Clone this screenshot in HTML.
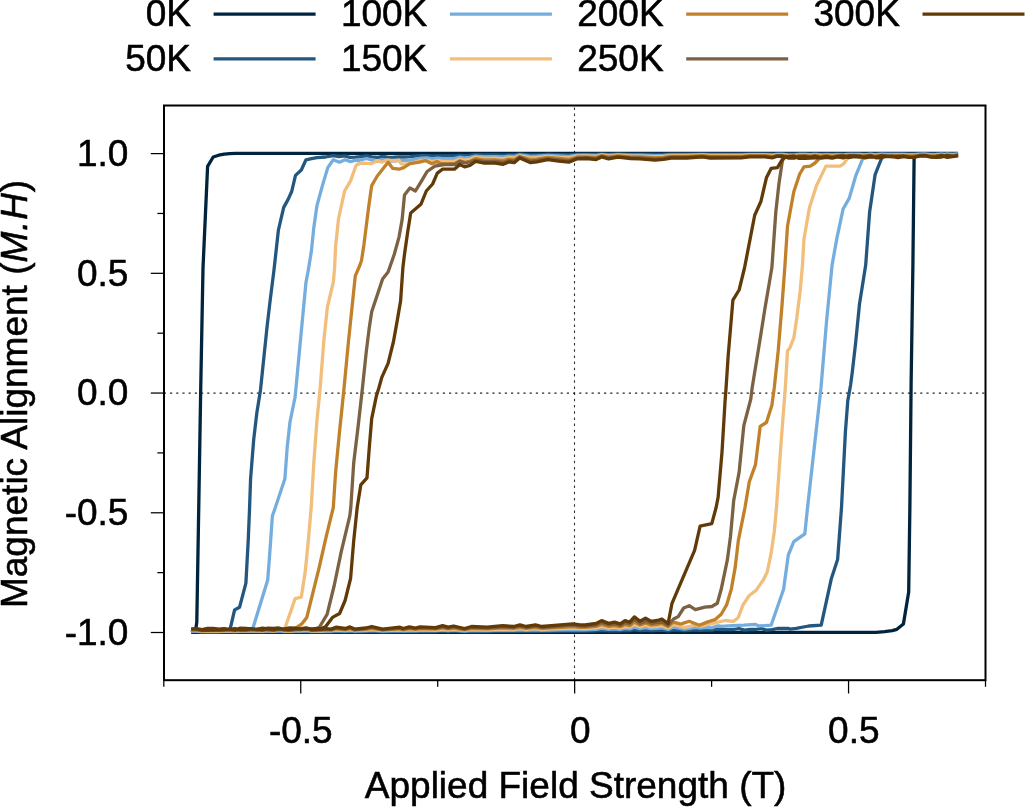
<!DOCTYPE html>
<html lang="en"><head><meta charset="utf-8"><title>Hysteresis loops</title>
<style>
html,body{margin:0;padding:0;background:#fff;}
body{width:1025px;height:807px;overflow:hidden;}
svg{display:block;}
text{font-family:"Liberation Sans",Arial,Helvetica,sans-serif;font-size:37px;fill:#000;stroke:#000;stroke-width:0.55px;}
.c{fill:none;stroke-width:3.3;stroke-linejoin:round;stroke-linecap:butt;}
.ax{stroke:#000;fill:none;}
</style></head><body>
<svg width="1025" height="807" viewBox="0 0 1025 807">
<rect width="1025" height="807" fill="#fff"/>
<g stroke="#000" stroke-width="1.3" fill="none">
<line stroke-dasharray="2.2 4" stroke-opacity="0.85" x1="163.8" y1="393.10" x2="985.5" y2="393.10"/>
<line stroke-dasharray="2.5 3.7" stroke-width="1.1" stroke-opacity="0.8" x1="574.5" y1="680.3" x2="574.5" y2="105.5"/>
</g>
<g class="c">
<path stroke="#01243e" d="M958.1 153.4 L236.0 153.4 L229.7 153.7 L224.2 154.2 L218.7 155.2 L213.2 157.0 L207.6 166.4 L203.0 268.0 L200.7 389.9 L198.7 509.9 L196.8 622.0 L195.6 630.5 L191.1 632.3 M191.2 632.3 L876.0 632.3 L884.6 631.7 L892.2 630.7 L896.9 629.3 L903.4 624.0 L908.7 592.0 L909.9 505.0 L911.1 385.0 L912.9 265.0 L914.1 159.0 L914.6 155.0 L917.0 153.4 L958.1 153.4"/>
<path stroke="#24577f" d="M958.1 153.8 L952.6 153.9 L947.2 154.0 L941.7 153.8 L936.2 154.0 L930.7 154.0 L925.2 153.8 L919.8 153.9 L914.3 154.0 L908.8 154.1 L903.3 153.9 L897.9 154.1 L892.4 153.9 L886.9 153.9 L881.4 153.8 L875.9 154.1 L870.5 154.0 L865.0 154.1 L859.5 153.9 L854.0 153.9 L848.5 153.9 L843.1 154.1 L837.6 154.0 L832.1 154.2 L826.6 154.0 L821.2 154.2 L815.7 153.9 L810.2 154.1 L804.7 153.9 L799.2 154.0 L793.8 154.2 L788.3 154.2 L782.8 153.9 L777.4 153.9 L772.7 154.1 L764.9 154.0 L749.3 154.0 L741.5 154.1 L710.2 154.2 L702.4 154.0 L686.8 154.2 L671.2 154.2 L663.4 154.4 L655.0 154.5 L640.0 154.3 L630.5 154.3 L618.0 154.0 L608.6 154.3 L601.6 154.0 L596.1 154.4 L586.8 154.3 L577.4 154.3 L568.8 154.9 L558.7 154.7 L547.8 154.4 L536.8 154.8 L530.6 155.0 L519.7 154.2 L514.2 155.0 L508.7 154.8 L503.3 155.2 L495.0 155.0 L490.0 155.0 L483.3 155.0 L475.5 154.7 L470.0 155.4 L464.6 155.7 L459.9 155.3 L454.4 156.0 L442.7 156.0 L437.7 155.8 L432.2 156.2 L426.7 155.6 L421.3 155.7 L415.8 156.2 L410.3 156.7 L404.8 157.0 L399.4 156.9 L393.9 157.2 L388.4 157.3 L382.9 156.5 L377.4 157.3 L372.0 156.8 L366.5 156.0 L361.0 156.6 L355.5 157.1 L350.1 157.3 L347.0 156.6 L345.0 155.9 L339.0 156.5 L333.0 155.6 L325.5 157.0 L317.0 157.6 L311.5 158.6 L306.0 159.8 L301.3 170.0 L295.5 175.4 L291.6 191.8 L288.0 199.6 L283.7 207.4 L278.4 230.1 L274.0 269.9 L270.1 300.9 L267.0 327.4 L260.5 389.9 L256.8 413.1 L253.7 439.6 L250.6 478.7 L249.5 509.9 L248.2 540.9 L245.9 583.1 L239.6 607.2 L234.6 609.9 L230.3 628.3 L225.0 631.0 L223.0 631.7 L218.6 631.8 L213.1 631.6 L207.6 631.6 L202.1 631.9 L196.7 631.7 L191.2 631.7 M191.2 631.7 L196.7 631.7 L202.1 631.9 L207.6 631.9 L213.1 631.9 L218.6 631.9 L224.1 631.9 L229.5 631.7 L235.0 631.9 L240.5 631.6 L246.0 631.7 L251.4 631.7 L256.9 631.8 L262.4 631.9 L267.9 631.6 L273.4 631.7 L278.8 631.6 L284.3 631.8 L289.8 631.9 L295.3 631.7 L300.8 631.7 L306.2 631.5 L311.7 631.9 L317.2 631.8 L322.7 631.8 L325.7 631.7 L331.2 631.8 L335.9 631.5 L345.3 631.7 L350.0 631.4 L354.6 631.8 L365.6 631.6 L371.8 631.3 L382.7 631.8 L399.9 631.5 L403.0 631.7 L409.3 631.4 L415.5 631.6 L420.0 631.4 L435.6 631.5 L442.6 631.2 L448.1 631.5 L453.6 631.2 L464.5 631.7 L471.5 631.3 L487.1 631.5 L502.7 631.2 L513.7 631.3 L519.9 631.1 L526.2 631.3 L535.5 631.1 L541.8 631.3 L560.5 631.1 L573.0 630.9 L580.0 631.1 L585.0 631.1 L596.0 630.8 L601.6 630.4 L608.6 630.8 L614.5 630.6 L620.3 630.9 L625.0 630.4 L629.7 630.6 L634.4 629.7 L640.0 630.5 L645.5 630.0 L650.9 630.5 L657.2 630.3 L661.9 630.1 L668.1 630.9 L673.3 629.8 L678.7 630.2 L684.2 630.6 L689.7 630.3 L695.2 629.8 L700.6 630.3 L706.1 629.8 L711.6 630.1 L717.1 629.1 L722.6 629.5 L728.0 629.6 L733.5 629.5 L739.0 628.5 L744.5 630.2 L749.9 629.5 L755.4 629.5 L760.9 628.5 L766.4 630.1 L771.9 629.7 L777.3 628.5 L782.8 628.5 L788.0 628.3 L790.0 629.1 L796.2 628.3 L808.7 626.0 L821.2 625.2 L831.4 578.4 L837.6 559.6 L841.5 507.5 L845.4 431.8 L847.8 400.6 L850.6 385.0 L852.4 371.1 L855.6 343.1 L859.5 304.0 L865.7 265.0 L869.6 212.1 L875.1 174.7 L881.3 159.0 L884.5 154.5 L886.5 153.9 L892.4 154.0 L897.9 154.0 L903.3 153.9 L908.8 154.0 L914.3 154.0 L919.8 153.8 L925.2 153.8 L930.7 154.0 L936.2 154.1 L941.7 154.0 L947.2 153.8 L952.6 153.9 L958.1 153.8"/>
<path stroke="#75addf" d="M958.1 154.2 L952.6 154.4 L947.2 154.7 L941.7 154.1 L936.2 154.5 L930.7 154.6 L925.2 154.2 L919.8 154.3 L914.3 154.7 L908.8 154.7 L903.3 154.5 L897.9 154.8 L892.4 154.5 L886.9 154.4 L881.4 154.2 L875.9 154.7 L870.5 154.6 L865.0 154.9 L859.5 154.4 L854.0 154.3 L848.5 154.3 L843.1 154.9 L837.6 154.6 L832.1 155.0 L826.6 154.7 L821.2 154.9 L815.7 154.4 L810.2 154.7 L804.7 154.5 L799.2 154.5 L793.8 155.0 L788.3 154.9 L782.8 154.4 L777.4 154.3 L772.7 154.9 L764.9 154.6 L749.3 154.6 L741.5 154.9 L710.2 154.9 L702.4 154.6 L686.8 154.9 L671.2 154.9 L663.4 155.4 L655.0 155.6 L640.0 155.2 L630.5 155.1 L618.0 154.7 L608.6 155.2 L601.6 154.6 L596.1 155.5 L586.8 155.1 L577.4 155.2 L568.8 156.3 L558.7 156.0 L547.8 155.5 L536.8 156.2 L530.6 156.5 L519.7 154.9 L514.2 156.5 L508.7 156.2 L503.3 157.0 L495.0 156.6 L490.0 156.7 L483.3 156.6 L475.5 156.1 L470.0 157.4 L464.6 157.9 L459.9 157.1 L454.4 158.7 L442.7 158.7 L437.7 158.1 L432.2 158.9 L426.7 157.9 L421.3 158.1 L415.8 159.1 L410.3 160.0 L404.8 160.6 L399.4 160.3 L393.9 161.0 L388.4 161.2 L382.9 159.6 L377.4 161.3 L372.0 160.2 L366.5 158.5 L361.0 159.8 L358.0 160.8 L356.0 160.2 L350.5 161.6 L345.0 159.8 L339.5 162.2 L333.3 159.8 L327.8 167.6 L322.4 185.6 L316.9 205.9 L313.8 227.7 L311.4 251.1 L308.3 269.9 L306.0 282.2 L302.1 322.8 L295.8 389.9 L295.0 397.5 L289.9 422.5 L287.2 447.4 L284.9 478.7 L274.5 509.9 L272.4 515.9 L269.3 559.6 L267.7 579.9 L252.9 628.3 L247.5 630.3 L245.5 631.4 L240.5 631.4 L235.0 631.1 L229.5 631.3 L224.1 631.1 L218.6 631.2 L213.1 631.0 L207.6 631.0 L202.1 631.4 L196.7 631.1 L191.2 631.2 M191.2 631.2 L196.7 631.2 L202.1 631.5 L207.6 631.5 L213.1 631.5 L218.6 631.5 L224.1 631.4 L229.5 631.2 L235.0 631.5 L240.5 630.9 L246.0 631.0 L251.4 631.2 L256.9 631.2 L262.4 631.4 L267.9 630.9 L273.4 631.0 L278.8 630.9 L284.3 631.3 L289.8 631.4 L295.3 631.1 L300.8 631.1 L306.2 630.8 L311.7 631.4 L317.2 631.3 L322.7 631.3 L325.7 631.1 L331.2 631.2 L335.9 630.6 L345.3 631.0 L350.0 630.5 L354.6 631.2 L365.6 630.9 L371.8 630.4 L382.7 631.2 L399.9 630.6 L403.0 631.0 L409.3 630.5 L415.5 630.9 L420.0 630.5 L435.6 630.7 L442.6 630.1 L448.1 630.6 L453.6 630.2 L464.5 631.0 L471.5 630.4 L487.1 630.6 L502.7 630.1 L513.7 630.4 L519.9 629.8 L526.2 630.4 L535.5 629.8 L541.8 630.4 L560.5 629.8 L573.0 629.5 L580.0 629.8 L585.0 629.9 L596.0 629.4 L601.6 628.4 L608.6 629.3 L614.5 628.9 L620.3 629.5 L625.0 628.4 L629.7 628.9 L634.4 627.2 L640.0 628.6 L645.5 627.6 L650.9 628.6 L657.2 628.4 L661.9 627.9 L668.1 629.4 L673.3 627.2 L678.7 628.1 L684.2 629.0 L689.7 628.3 L695.2 627.3 L700.6 628.2 L706.1 627.3 L711.6 627.9 L717.1 626.0 L719.2 625.9 L721.2 626.3 L732.0 625.6 L744.0 625.2 L755.5 624.4 L758.6 626.0 L771.1 625.2 L783.6 589.3 L788.3 555.0 L793.8 541.7 L804.8 533.9 L807.5 508.0 L821.0 387.5 L826.7 319.6 L832.1 265.0 L836.8 238.7 L843.1 209.0 L849.3 198.1 L855.6 176.2 L862.6 159.0 L865.5 155.0 L867.5 154.6 L870.5 154.2 L875.9 154.9 L881.4 154.8 L886.9 154.4 L892.4 154.5 L897.9 154.5 L903.3 154.4 L908.8 154.7 L914.3 154.7 L919.8 154.2 L925.2 154.2 L930.7 154.7 L936.2 154.7 L941.7 154.6 L947.2 154.2 L952.6 154.5 L958.1 154.1"/>
<path stroke="#f1be7b" d="M958.1 154.6 L952.6 155.0 L947.2 155.3 L941.7 154.5 L936.2 155.1 L930.7 155.3 L925.2 154.6 L919.8 154.8 L914.3 155.3 L908.8 155.4 L903.3 155.0 L897.9 155.5 L892.4 155.0 L886.9 154.9 L881.4 154.7 L875.9 155.4 L870.5 155.2 L865.0 155.6 L859.5 154.9 L854.0 154.8 L848.5 154.8 L843.1 155.6 L837.6 155.1 L832.1 155.8 L826.6 155.3 L821.2 155.7 L815.7 154.9 L810.2 155.4 L804.7 155.0 L799.2 155.1 L793.8 155.8 L788.3 155.7 L782.8 154.9 L777.4 154.8 L772.7 155.6 L764.9 155.2 L749.3 155.2 L741.5 155.6 L710.2 155.7 L702.4 155.2 L686.8 155.7 L671.2 155.7 L663.4 156.4 L655.0 156.8 L640.0 156.1 L630.5 156.0 L618.0 155.3 L608.6 156.1 L601.6 155.2 L596.1 156.5 L586.8 156.0 L577.4 156.1 L568.8 157.8 L558.7 157.3 L547.8 156.5 L536.8 157.7 L530.6 158.1 L519.7 155.7 L514.2 158.1 L508.7 157.7 L503.3 158.9 L495.0 158.2 L490.0 158.3 L483.3 158.2 L475.5 157.4 L470.0 159.4 L464.6 160.2 L459.9 159.0 L454.4 161.3 L442.7 161.3 L437.7 160.5 L432.2 161.7 L426.7 160.1 L421.3 160.4 L415.8 161.9 L410.3 163.3 L404.8 164.2 L401.0 163.8 L399.0 160.2 L393.5 161.0 L388.1 159.8 L381.8 162.2 L377.9 160.6 L370.9 163.7 L360.8 163.0 L356.1 165.3 L350.6 180.9 L344.6 191.0 L338.5 219.0 L335.6 246.5 L334.6 268.0 L333.3 282.2 L327.4 307.1 L323.9 339.9 L320.2 387.5 L316.9 420.9 L313.8 463.0 L311.2 507.5 L308.3 540.9 L305.2 572.1 L301.3 597.1 L295.1 598.7 L284.9 628.3 L279.5 630.0 L277.5 630.4 L273.4 631.0 L267.9 630.6 L262.4 630.3 L256.9 630.8 L251.4 630.5 L246.0 630.9 L240.5 630.9 L235.0 630.5 L229.5 630.9 L224.1 630.5 L218.6 630.7 L213.1 630.3 L207.6 630.3 L202.1 631.0 L196.7 630.5 L191.2 630.6 M191.2 630.6 L196.7 630.6 L202.1 631.2 L207.6 631.1 L213.1 631.1 L218.6 631.1 L224.1 631.0 L229.5 630.6 L235.0 631.2 L240.5 630.2 L246.0 630.4 L251.4 630.6 L256.9 630.7 L262.4 631.0 L267.9 630.2 L273.4 630.4 L278.8 630.1 L284.3 630.8 L289.8 631.0 L295.3 630.6 L300.8 630.5 L306.2 630.0 L311.7 631.0 L317.2 630.8 L322.7 630.8 L325.7 630.5 L331.2 630.7 L335.9 629.8 L345.3 630.4 L350.0 629.6 L354.6 630.7 L365.6 630.1 L371.8 629.4 L382.7 630.7 L399.9 629.8 L403.0 630.4 L409.3 629.6 L415.5 630.1 L420.0 629.6 L435.6 630.0 L442.6 629.0 L448.1 629.8 L453.6 629.1 L464.5 630.4 L471.5 629.4 L487.1 629.8 L502.7 629.0 L513.7 629.4 L519.9 628.6 L526.2 629.4 L535.5 628.6 L541.8 629.4 L560.5 628.6 L573.0 628.0 L580.0 628.6 L585.0 628.6 L596.0 627.9 L601.6 626.5 L608.6 627.8 L614.5 627.2 L620.3 628.1 L625.0 626.5 L629.7 627.2 L634.4 624.6 L640.0 626.8 L645.5 625.2 L650.9 626.8 L657.2 626.4 L661.9 625.6 L668.1 628.0 L673.3 624.7 L678.7 625.9 L684.2 627.3 L689.7 626.3 L695.2 624.8 L700.4 626.2 L702.4 626.0 L714.9 622.9 L725.1 620.5 L733.7 621.3 L738.3 617.4 L743.0 604.9 L749.3 595.5 L756.3 590.1 L763.3 579.9 L767.2 572.1 L771.1 553.4 L774.3 531.5 L776.5 507.0 L781.3 439.6 L785.4 387.0 L787.5 350.9 L790.0 347.7 L793.9 337.5 L797.0 316.5 L800.1 291.5 L802.5 265.0 L804.0 238.7 L809.5 207.4 L816.5 185.6 L825.9 166.1 L840.0 166.1 L843.9 163.7 L847.0 159.0 L850.0 155.6 L852.0 155.0 L854.0 155.0 L859.5 155.3 L865.0 155.1 L870.5 154.6 L875.9 155.6 L881.4 155.5 L886.9 154.9 L892.4 155.1 L897.9 155.1 L903.3 154.9 L908.8 155.3 L914.3 155.3 L919.8 154.6 L925.2 154.5 L930.7 155.3 L936.2 155.4 L941.7 155.2 L947.2 154.5 L952.6 155.0 L958.1 154.5"/>
<path stroke="#c0812a" d="M958.1 155.0 L952.6 155.5 L947.2 156.0 L941.7 154.9 L936.2 155.7 L930.7 155.9 L925.2 155.1 L919.8 155.2 L914.3 155.9 L908.8 156.1 L903.3 155.5 L897.9 156.2 L892.4 155.5 L886.9 155.4 L881.4 155.1 L875.9 156.0 L870.5 155.7 L865.0 156.3 L859.5 155.4 L854.0 155.2 L848.5 155.2 L843.1 156.4 L837.6 155.7 L832.1 156.6 L826.6 156.0 L821.2 156.4 L815.7 155.5 L810.2 156.1 L804.7 155.5 L799.2 155.7 L793.8 156.6 L788.3 156.5 L782.8 155.4 L777.4 155.3 L772.7 156.3 L764.9 155.7 L749.3 155.7 L741.5 156.3 L710.2 156.5 L702.4 155.7 L686.8 156.5 L671.2 156.5 L663.4 157.3 L655.0 157.9 L640.0 157.0 L630.5 156.8 L618.0 155.9 L608.6 157.0 L601.6 155.7 L596.1 157.5 L586.8 156.8 L577.4 157.0 L568.8 159.3 L558.7 158.5 L547.8 157.5 L536.8 159.1 L530.6 159.6 L519.7 156.5 L514.2 159.6 L508.7 159.1 L503.3 160.7 L495.0 159.8 L490.0 159.9 L483.3 159.8 L475.5 158.7 L470.0 161.3 L464.6 162.4 L459.9 160.8 L454.4 163.9 L442.7 163.9 L439.0 162.7 L437.0 161.5 L431.8 163.7 L425.5 160.6 L419.3 162.2 L409.9 163.7 L403.7 167.6 L399.0 169.2 L392.8 168.4 L388.1 162.2 L377.1 176.2 L371.7 185.6 L368.6 207.4 L363.9 244.9 L361.5 260.5 L360.0 265.0 L355.3 275.9 L352.2 305.6 L348.3 343.1 L344.1 387.5 L339.3 434.0 L335.6 472.4 L333.3 507.5 L326.3 536.2 L319.2 567.4 L306.8 617.4 L302.1 623.6 L296.6 627.5 L291.0 629.7 L289.0 629.4 L284.3 630.0 L278.8 629.8 L273.4 630.6 L267.9 630.1 L262.4 629.6 L256.9 630.3 L251.4 629.9 L246.0 630.5 L240.5 630.5 L235.0 629.9 L229.5 630.4 L224.1 629.9 L218.6 630.2 L213.1 629.7 L207.6 629.6 L202.1 630.5 L196.7 629.9 L191.2 630.0 M191.2 630.0 L196.7 630.0 L202.1 630.8 L207.6 630.7 L213.1 630.7 L218.6 630.7 L224.1 630.5 L229.5 630.0 L235.0 630.8 L240.5 629.5 L246.0 629.7 L251.4 630.1 L256.9 630.2 L262.4 630.5 L267.9 629.6 L273.4 629.8 L278.8 629.4 L284.3 630.3 L289.8 630.5 L295.3 630.0 L300.8 629.9 L306.2 629.3 L311.7 630.5 L317.2 630.3 L322.7 630.2 L325.7 629.8 L331.2 630.2 L335.9 628.9 L345.3 629.8 L350.0 628.7 L354.6 630.2 L365.6 629.4 L371.8 628.4 L382.7 630.2 L399.9 628.9 L403.0 629.8 L409.3 628.7 L415.5 629.4 L420.0 628.7 L435.6 629.2 L442.6 627.9 L448.1 628.9 L453.6 628.1 L464.5 629.8 L471.5 628.4 L487.1 628.9 L502.7 627.9 L513.7 628.4 L519.9 627.4 L526.2 628.4 L535.5 627.4 L541.8 628.4 L560.5 627.4 L573.0 626.6 L580.0 627.4 L585.0 627.4 L596.0 626.4 L601.6 624.5 L608.6 626.4 L614.5 625.6 L620.3 626.7 L625.0 624.5 L629.7 625.6 L634.4 622.0 L640.0 625.0 L645.5 622.9 L650.9 625.0 L657.2 624.4 L661.9 623.4 L668.1 626.5 L673.3 622.1 L680.1 623.8 L682.1 623.6 L689.2 621.3 L699.3 625.2 L707.1 622.1 L714.9 619.7 L721.2 614.3 L726.6 604.9 L731.3 589.3 L735.2 567.4 L738.3 540.9 L745.0 507.5 L749.3 481.8 L755.5 464.6 L760.2 426.4 L766.4 422.5 L771.9 405.3 L774.3 387.5 L778.2 350.9 L782.1 304.0 L784.8 267.5 L787.5 226.2 L793.8 191.8 L799.7 174.0 L804.0 166.9 L810.3 166.1 L815.0 163.0 L818.9 159.0 L822.0 156.0 L824.0 155.6 L826.6 155.6 L832.1 156.3 L837.6 155.5 L843.1 155.3 L848.5 156.2 L854.0 155.6 L859.5 155.9 L865.0 155.7 L870.5 155.1 L875.9 156.3 L881.4 156.2 L886.9 155.4 L892.4 155.7 L897.9 155.6 L903.3 155.4 L908.8 155.9 L914.3 156.0 L919.8 155.0 L925.2 154.9 L930.7 155.9 L936.2 156.0 L941.7 155.8 L947.2 154.9 L952.6 155.5 L958.1 154.9"/>
<path stroke="#7c6142" d="M958.1 155.4 L952.6 156.0 L947.2 156.6 L941.7 155.3 L936.2 156.2 L930.7 156.5 L925.2 155.5 L919.8 155.7 L914.3 156.5 L908.8 156.7 L903.3 156.0 L897.9 156.9 L892.4 156.0 L886.9 155.9 L881.4 155.5 L875.9 156.7 L870.5 156.3 L865.0 157.0 L859.5 155.9 L854.0 155.7 L848.5 155.7 L843.1 157.1 L837.6 156.3 L832.1 157.4 L826.6 156.6 L821.2 157.2 L815.7 156.0 L810.2 156.7 L804.7 156.1 L799.2 156.2 L793.8 157.4 L788.3 157.2 L782.8 156.0 L777.4 155.7 L772.7 157.1 L764.9 156.3 L749.3 156.3 L741.5 157.1 L710.2 157.2 L702.4 156.3 L686.8 157.2 L671.2 157.2 L663.4 158.3 L655.0 159.0 L640.0 157.9 L630.5 157.7 L618.0 156.6 L608.6 157.9 L601.6 156.3 L596.1 158.6 L586.8 157.7 L577.4 157.9 L568.8 160.7 L558.7 159.8 L547.8 158.6 L536.8 160.5 L530.6 161.2 L519.7 157.2 L514.2 161.2 L508.7 160.5 L503.3 162.5 L495.0 161.4 L490.0 161.6 L483.3 161.4 L475.5 160.1 L470.0 162.0 L465.0 163.0 L459.9 161.4 L455.2 164.5 L444.3 164.5 L434.9 166.1 L427.1 171.5 L421.6 180.9 L415.4 191.0 L409.9 187.9 L404.5 195.0 L402.1 219.9 L399.0 237.1 L394.3 254.3 L389.7 267.5 L388.1 272.0 L382.6 279.0 L371.7 311.8 L369.3 327.4 L366.2 352.4 L362.5 387.5 L358.4 424.0 L353.7 463.0 L350.8 507.5 L349.8 515.9 L341.2 551.8 L334.2 585.5 L327.1 614.3 L319.2 627.5 L314.0 629.3 L312.0 629.5 L306.2 628.9 L300.8 629.5 L295.3 628.8 L289.8 628.7 L284.3 629.4 L278.8 629.2 L273.4 630.2 L267.9 629.5 L262.4 628.9 L256.9 629.8 L251.4 629.3 L246.0 630.0 L240.5 630.0 L235.0 629.3 L229.5 629.9 L224.1 629.3 L218.6 629.7 L213.1 629.0 L207.6 629.0 L202.1 630.1 L196.7 629.3 L191.2 629.5 M191.2 629.5 L196.7 629.5 L202.1 630.4 L207.6 630.4 L213.1 630.3 L218.6 630.3 L224.1 630.1 L229.5 629.4 L235.0 630.4 L240.5 628.8 L246.0 629.1 L251.4 629.5 L256.9 629.6 L262.4 630.1 L267.9 628.9 L273.4 629.2 L278.8 628.7 L284.3 629.8 L289.8 630.1 L295.3 629.4 L300.8 629.2 L306.2 628.5 L311.7 630.1 L317.2 629.8 L322.7 629.7 L325.7 629.2 L331.2 629.6 L335.9 628.1 L345.3 629.1 L350.0 627.8 L354.6 629.6 L365.6 628.7 L371.8 627.5 L382.7 629.6 L399.9 628.1 L403.0 629.1 L409.3 627.8 L415.5 628.7 L420.0 627.8 L435.6 628.4 L442.6 626.8 L448.1 628.1 L453.6 627.0 L464.5 629.1 L471.5 627.5 L487.1 628.1 L502.7 626.8 L513.7 627.5 L519.9 626.1 L526.2 627.5 L535.5 626.1 L541.8 627.5 L560.5 626.1 L573.0 625.2 L580.0 626.1 L585.0 626.2 L596.0 625.0 L601.6 622.5 L608.6 624.9 L614.5 623.9 L620.3 625.3 L625.0 622.5 L629.7 623.9 L634.4 619.5 L640.0 623.5 L646.0 621.5 L652.0 623.5 L657.5 622.5 L662.5 622.0 L668.1 625.2 L673.6 619.0 L678.2 616.6 L683.7 608.0 L689.2 605.7 L695.4 609.6 L704.8 607.2 L711.8 606.5 L717.3 603.3 L721.2 589.3 L727.4 559.6 L730.5 536.2 L733.1 507.5 L733.7 500.5 L739.1 472.4 L743.8 425.6 L750.8 399.0 L752.2 387.5 L760.2 338.4 L764.9 308.7 L771.9 267.5 L775.8 212.1 L778.9 184.0 L782.4 160.6 L785.0 156.5 L787.0 156.3 L793.8 155.8 L799.2 157.6 L804.7 157.6 L810.2 157.2 L815.7 157.2 L821.2 157.0 L826.6 156.2 L832.1 157.1 L837.6 156.0 L843.1 155.7 L848.5 156.9 L854.0 156.1 L859.5 156.5 L865.0 156.3 L870.5 155.5 L875.9 157.0 L881.4 156.8 L886.9 155.9 L892.4 156.2 L897.9 156.2 L903.3 155.9 L908.8 156.6 L914.3 156.6 L919.8 155.4 L925.2 155.3 L930.7 156.5 L936.2 156.7 L941.7 156.4 L947.2 155.3 L952.6 156.0 L958.1 155.2"/>
<path stroke="#623a08" d="M958.1 155.8 L952.6 156.5 L947.2 157.3 L941.7 155.6 L936.2 156.8 L930.7 157.1 L925.2 155.9 L919.8 156.1 L914.3 157.2 L908.8 157.4 L903.3 156.6 L897.9 157.6 L892.4 156.6 L886.9 156.4 L881.4 155.9 L875.9 157.3 L870.5 156.9 L865.0 157.8 L859.5 156.4 L854.0 156.2 L848.5 156.2 L843.1 157.9 L837.6 156.9 L832.1 158.2 L826.6 157.3 L821.2 158.0 L815.7 156.5 L810.2 157.4 L804.7 156.6 L799.2 156.8 L793.8 158.2 L788.3 158.0 L782.8 156.5 L777.4 156.2 L772.7 157.8 L764.9 156.9 L749.3 156.9 L741.5 157.8 L710.2 158.0 L702.4 156.9 L686.8 158.0 L671.2 158.0 L663.4 159.3 L655.0 160.1 L640.0 158.8 L630.5 158.5 L618.0 157.2 L608.6 158.8 L601.6 156.9 L596.1 159.6 L586.8 158.5 L577.4 158.8 L568.8 162.2 L558.7 161.1 L547.8 159.6 L536.8 161.9 L530.6 162.7 L519.7 158.0 L514.2 162.7 L508.7 161.9 L503.3 164.3 L495.0 163.0 L490.0 163.2 L483.3 163.0 L475.5 161.4 L470.0 165.3 L464.6 166.9 L459.9 164.5 L454.4 169.2 L442.7 169.2 L437.3 173.1 L432.6 184.0 L426.3 191.0 L420.9 204.3 L410.7 212.9 L407.6 232.4 L404.5 254.3 L402.9 267.5 L400.6 300.9 L397.4 319.6 L393.5 341.5 L388.1 363.3 L381.8 377.4 L379.0 387.5 L376.4 395.9 L371.7 418.6 L369.3 447.4 L367.0 477.9 L360.8 484.9 L357.2 507.5 L353.7 540.9 L350.6 578.4 L345.1 600.5 L339.6 613.5 L332.5 617.4 L325.5 626.8 L320.0 629.0 L318.0 628.3 L311.7 628.9 L306.2 628.3 L300.8 628.9 L295.3 628.1 L289.8 628.0 L284.3 628.8 L278.8 628.6 L273.4 629.7 L267.9 628.9 L262.4 628.2 L256.9 629.4 L251.4 628.7 L246.0 629.5 L240.5 629.6 L235.0 628.7 L229.5 629.4 L224.1 628.7 L218.6 629.1 L213.1 628.4 L207.6 628.3 L202.1 629.7 L196.7 628.7 L191.2 628.9 M191.2 628.9 L196.7 628.9 L202.1 630.0 L207.6 630.0 L213.1 629.9 L218.6 629.9 L224.1 629.6 L229.5 628.9 L235.0 630.0 L240.5 628.1 L246.0 628.5 L251.4 629.0 L256.9 629.1 L262.4 629.6 L267.9 628.2 L273.4 628.5 L278.8 628.0 L284.3 629.3 L289.8 629.7 L295.3 628.8 L300.8 628.6 L306.2 627.8 L311.7 629.6 L317.2 629.3 L322.7 629.2 L325.7 628.6 L331.2 629.1 L335.9 627.2 L345.3 628.5 L350.0 626.9 L354.6 629.1 L365.6 628.0 L371.8 626.5 L382.7 629.1 L399.9 627.2 L403.0 628.5 L409.3 626.9 L415.5 628.0 L420.0 626.9 L435.6 627.6 L442.6 625.7 L448.1 627.2 L453.6 626.0 L464.5 628.5 L471.5 626.5 L487.1 627.2 L502.7 625.7 L513.7 626.5 L519.9 624.9 L526.2 626.5 L535.5 624.9 L541.8 626.5 L560.5 624.9 L573.0 623.8 L580.0 624.9 L585.0 625.0 L596.0 623.5 L601.6 620.6 L608.6 623.4 L614.5 622.2 L620.3 623.9 L625.0 620.6 L629.7 622.2 L634.4 616.9 L640.0 621.3 L645.5 618.2 L650.9 621.3 L657.2 620.5 L661.9 619.0 L668.1 623.6 L672.0 603.3 L694.6 550.3 L700.1 526.1 L711.8 523.7 L716.1 507.5 L718.1 497.4 L722.0 452.1 L725.1 400.6 L726.1 387.5 L728.2 355.5 L732.9 300.1 L739.1 290.0 L744.6 267.5 L754.7 215.2 L761.0 201.2 L766.4 177.8 L771.1 168.4 L777.4 167.6 L782.1 159.8 L785.5 157.0 L787.5 156.9 L793.8 156.3 L799.2 158.4 L804.7 158.4 L810.2 158.0 L815.7 157.9 L821.2 157.7 L826.6 156.7 L832.1 157.8 L837.6 156.6 L843.1 156.2 L848.5 157.6 L854.0 156.7 L859.5 157.2 L865.0 156.9 L870.5 155.9 L875.9 157.8 L881.4 157.5 L886.9 156.4 L892.4 156.8 L897.9 156.7 L903.3 156.5 L908.8 157.2 L914.3 157.3 L919.8 155.8 L925.2 155.7 L930.7 157.2 L936.2 157.3 L941.7 157.0 L947.2 155.7 L952.6 156.6 L958.1 155.6"/>
</g>
<g class="ax" stroke-width="1.25">
<line x1="150.8" y1="632.50" x2="164.0" y2="632.50"/>
<line x1="157.4" y1="572.64" x2="164.0" y2="572.64"/>
<line x1="150.8" y1="512.78" x2="164.0" y2="512.78"/>
<line x1="157.4" y1="452.91" x2="164.0" y2="452.91"/>
<line x1="150.8" y1="393.05" x2="164.0" y2="393.05"/>
<line x1="157.4" y1="333.19" x2="164.0" y2="333.19"/>
<line x1="150.8" y1="273.32" x2="164.0" y2="273.32"/>
<line x1="157.4" y1="213.46" x2="164.0" y2="213.46"/>
<line x1="150.8" y1="153.60" x2="164.0" y2="153.60"/>
<line x1="163.80" y1="680.2" x2="163.80" y2="686.8"/>
<line x1="300.75" y1="680.2" x2="300.75" y2="693.5"/>
<line x1="437.70" y1="680.2" x2="437.70" y2="686.8"/>
<line x1="574.65" y1="680.2" x2="574.65" y2="693.5"/>
<line x1="711.60" y1="680.2" x2="711.60" y2="686.8"/>
<line x1="848.55" y1="680.2" x2="848.55" y2="693.5"/>
<line x1="985.50" y1="680.2" x2="985.50" y2="686.8"/>
</g>
<rect class="ax" stroke-width="2" x="164.00" y="105.51" width="821.50" height="574.68"/>
<g text-anchor="end">
<text x="128.4" y="165.8">1.0</text>
<text x="128.4" y="285.5">0.5</text>
<text x="128.4" y="405.2">0.0</text>
<text x="128.4" y="525.0">-0.5</text>
<text x="128.4" y="644.7">-1.0</text>
</g>
<g text-anchor="middle">
<text x="300.8" y="743">-0.5</text>
<text x="580.4" y="743">0</text>
<text x="853.8" y="743">0.5</text>
</g>
<text x="575.6" y="798.3" text-anchor="middle">Applied Field Strength (T)</text>
<text transform="translate(27.4 394.0) rotate(-90)" text-anchor="middle">Magnetic Alignment (<tspan font-style="italic" letter-spacing="0.8">M.H</tspan>)</text>
<g>
<text x="191.0" y="26.0" text-anchor="end">0K</text>
<line x1="213.6" y1="14.2" x2="315.6" y2="14.2" stroke="#01243e" stroke-width="3.2"/>
<text x="191.0" y="70.7" text-anchor="end">50K</text>
<line x1="213.6" y1="58.9" x2="315.6" y2="58.9" stroke="#24577f" stroke-width="3.2"/>
<text x="427.3" y="26.0" text-anchor="end">100K</text>
<line x1="449.9" y1="14.2" x2="551.9" y2="14.2" stroke="#75addf" stroke-width="3.2"/>
<text x="427.3" y="70.7" text-anchor="end">150K</text>
<line x1="449.9" y1="58.9" x2="551.9" y2="58.9" stroke="#f1be7b" stroke-width="3.2"/>
<text x="663.6" y="26.0" text-anchor="end">200K</text>
<line x1="686.2" y1="14.2" x2="788.2" y2="14.2" stroke="#c0812a" stroke-width="3.2"/>
<text x="663.6" y="70.7" text-anchor="end">250K</text>
<line x1="686.2" y1="58.9" x2="788.2" y2="58.9" stroke="#7c6142" stroke-width="3.2"/>
<text x="899.9" y="26.0" text-anchor="end">300K</text>
<line x1="922.5" y1="14.2" x2="1024.5" y2="14.2" stroke="#623a08" stroke-width="3.2"/>
</g>
</svg>
</body></html>
